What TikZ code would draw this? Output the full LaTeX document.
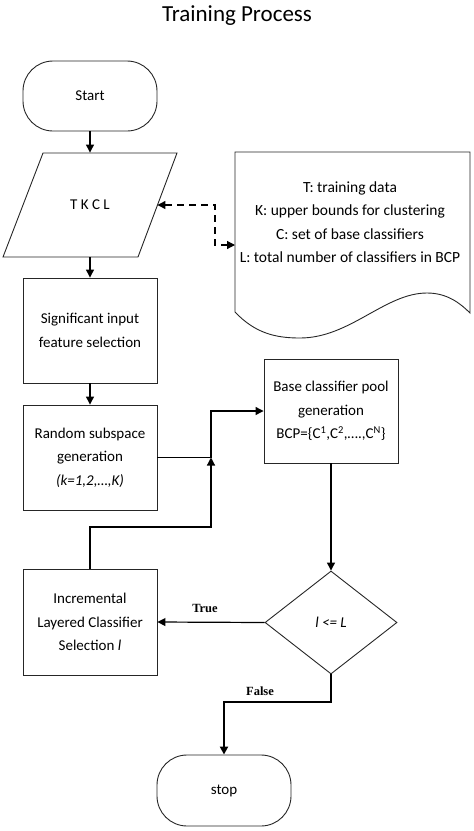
\documentclass[tikz,border=0pt]{standalone}
\usepackage{fontspec}
\setmainfont{Carlito}
\newfontfamily\serifl{Liberation Serif}
\usetikzlibrary{arrows.meta,shapes.geometric}
\tikzset{
  box/.style={draw=black!85, line width=0.9pt, minimum width=134pt, inner sep=2pt, align=center, font=\fontsize{15}{23.5}\selectfont},
  term/.style={box, rounded corners=30pt, minimum height=70pt},
  conn/.style={line width=1.2pt, -{Triangle[length=8pt,width=8pt]}},
  lbl/.style={font=\serifl\fontsize{12.5}{14}\selectfont\bfseries},
}
\begin{document}
\begin{tikzpicture}[x=1pt,y=-1pt]
\useasboundingbox (0,0) rectangle (474,831);
\node[font=\fontsize{23}{26}\selectfont] (title) at (237,16) {Training Process};
\node[term] (start) at (90,96) {Start};
% parallelogram
\draw[draw=black!85, line width=0.9pt] (43,153) -- (177,153) -- (138,257) -- (3,257) -- cycle;
\node[box, draw=none, minimum height=104pt] (tkcl) at (90,205) {T K C L};
% document
\draw[draw=black!85, line width=0.9pt] (235,312) -- (235,152) -- (470,152) -- (470,313)
  .. controls (460,303) and (447,293) .. (427,293)
  .. controls (385,293) and (350,338) .. (300,338)
  .. controls (275,338) and (255,333) .. (235,312);
\node[align=center, font=\fontsize{15.5}{23.5}\selectfont] (doc) at (350,222) {T: training data\\K: upper bounds for clustering\\C: set of base classifiers\\L: total number of classifiers in BCP};
\coordinate (docin) at (235,245);
\coordinate (dk) at (215,245);
\node[box, minimum height=105pt] (box1) at (90,330.5) {Significant input\\feature selection};
\node[box, minimum height=105pt] (box2) at (90,457.5) {Random subspace\\generation\\\textit{(k=1,2,…,K)}};
\node[box, minimum height=104pt] (bcp) at (331,411) {Base classifier pool\\generation\\BCP=\{C\textsuperscript{1},C\textsuperscript{2},….,C\textsuperscript{N}\}};
\node[draw=black!85, line width=0.9pt, diamond, minimum width=132pt, minimum height=103pt, inner sep=0pt, font=\fontsize{15}{16}\selectfont] (dec) at (331,622.5) {\textit{l <= L}};
\node[box, minimum height=106pt] (box3) at (90,622) {Incremental\\Layered Classifier\\Selection \textit{l}};
\node[term, minimum height=71pt] (stop) at (224,790.5) {stop};
\coordinate (j1) at (211,457.5);
\coordinate (j2) at (211,527);
\coordinate (j3) at (331,702);
% connectors
\draw[conn] (start) -- (tkcl);
\draw[conn] (tkcl) -- (box1);
\draw[conn] (box1) -- (box2);
\draw[line width=1.2pt, dashed, dash pattern=on 7pt off 5pt, {Triangle[length=8pt,width=8pt]}-{Triangle[length=8pt,width=8pt]}] (tkcl.east) -| (dk) -- (docin);
\draw[conn] (box2.east) -- (j1) |- (bcp.west);
\draw[conn] (box3.north) |- (j2) -- (j1);
\draw[conn] (bcp) -- (dec);
\draw[conn] (dec.west) -- (box3.east);
\node[lbl] (tl) at (205,608) {True};
\draw[conn, line width=2pt] (dec.south) -- (j3) -| (stop.north);
\node[lbl] (fl) at (260,691) {False};
\end{tikzpicture}
\end{document}
